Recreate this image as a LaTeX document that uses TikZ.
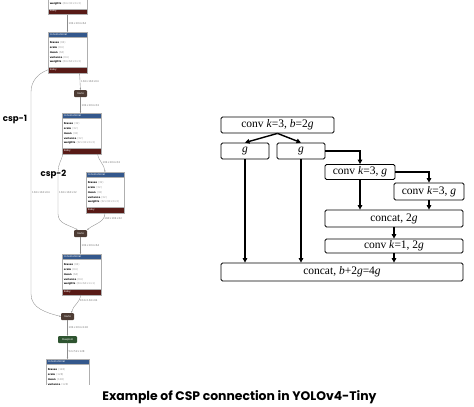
\documentclass[tikz,border=0pt]{standalone}
\usepackage{fontspec}
\setmainfont{Liberation Serif}
\newfontfamily\netfont{DejaVu Sans}
\newfontfamily\capfont{Poppins}
\usetikzlibrary{shapes.multipart,arrows.meta,positioning}

\definecolor{hdrblue}{RGB}{52,88,140}
\definecolor{leakyred}{RGB}{88,26,22}
\definecolor{routebrown}{RGB}{78,60,52}
\definecolor{poolgreen}{RGB}{46,84,48}
\definecolor{edgegray}{RGB}{140,140,140}
\definecolor{valgray}{RGB}{150,150,150}

\newcommand{\nettiny}{\netfont\fontsize{2.6}{4.8}\selectfont}
\newcommand{\nrow}[2]{\textbf{#1}\hspace{1.2pt}\textcolor{valgray}{#2}}
\newcommand{\hdrtext}{\rule[-1pt]{0pt}{3.4pt}\textcolor{white}{convolutional}}
\newcommand{\lkytext}{\rule[-1.6pt]{0pt}{3.9pt}\textcolor{white}{leaky}}
% #1 channels, #2 weights
\newcommand{\convbody}[2]{%
  \rule{0pt}{5.2pt}\nrow{biases}{⟨#1⟩}\\
  \nrow{scale}{⟨#1⟩}\\
  \nrow{mean}{⟨#1⟩}\\
  \nrow{variance}{⟨#1⟩}\\
  \nrow{weights}{⟨#2⟩}\rule[-3.1pt]{0pt}{0pt}}

\tikzset{
  netconv/.style={rectangle split, rectangle split parts=3,
    rectangle split part fill={hdrblue,white,leakyred},
    draw=edgegray!70, line width=0.3pt, text width=#1,
    inner xsep=1.5pt, inner ysep=0.8pt, font=\nettiny, align=left},
  netconv/.default=35.5pt,
  netop/.style={rounded corners=1pt, fill=#1, text=white, font=\nettiny,
    inner sep=0pt, minimum height=7pt},
  netedge/.style={draw=edgegray, line width=0.35pt,
    -{Stealth[length=1.6pt,width=1.3pt]}},
  elabel/.style={font=\nettiny, text=valgray!80!black, anchor=west, inner sep=1pt},
  cspname/.style={font=\capfont\bfseries\fontsize{8.6}{10}\selectfont},
  blk/.style={draw, rounded corners=1.5pt, line width=0.8pt, fill=white,
    inner sep=0pt, font=\fontsize{11.5}{13}\selectfont},
  arr/.style={line width=1.4pt, -{Triangle[length=4.5pt,width=4.5pt]}}
}

\begin{document}
\begin{tikzpicture}[x=1pt,y=-1pt]
  \useasboundingbox (0,0) rectangle (474,407);

  % netron graph
  \begin{scope}
    \clip (0,0) rectangle (160,384);
    % only its last rows are in view
    \node[netconv, anchor=north] (a) at (67.5,-26.2)
      {\rule[-1pt]{0pt}{3.4pt}\nodepart{two}\rule{0pt}{24.4pt}%
       \nrow{weights}{⟨64×32×3×3⟩}\rule[-3.1pt]{0pt}{0pt}\nodepart{three}\lkytext};
    \node[netconv, anchor=north] (b) at (67.5,32)
      {\hdrtext\nodepart{two}\convbody{64}{64×64×3×3}\nodepart{three}\lkytext};
    \node[netop=routebrown, minimum width=13pt] (r1) at (80.5,93.5) {route};
    \node[netconv, anchor=north] (c) at (81.5,113)
      {\hdrtext\nodepart{two}\convbody{32}{32×32×3×3}\nodepart{three}\lkytext};
    \node[netconv=34.5pt, anchor=north] (d) at (105,172)
      {\hdrtext\nodepart{two}\convbody{32}{32×32×3×3}\nodepart{three}\lkytext};
    \node[netop=routebrown, minimum width=13pt] (r3) at (80.5,233.5) {route};
    \node[netconv, anchor=north] (e) at (81.5,254)
      {\hdrtext\nodepart{two}\convbody{64}{64×64×1×1}\nodepart{three}\lkytext};
    \node[netop=routebrown, minimum width=13pt] (r2) at (67.5,316.5) {route};
    \node[netop=poolgreen, minimum width=19pt] (mp) at (67.5,339.5) {maxpool};
    \node[netconv=39.5pt, anchor=north] (f) at (67.5,359)
      {\hdrtext\nodepart{two}\convbody{128}{128×128×3×3}\nodepart{three}\lkytext};

    \coordinate (p1) at (31,92);
    \coordinate (p2) at (31,294);
    \coordinate (q1) at (58,172);
    \coordinate (q2) at (58,214);

    \draw[netedge] (a.south) -- node[elabel] {104×104×64} (b.north);
    \draw[netedge] ([xshift=12pt]b.south) to[out=-85,in=95]
      node[elabel] {104×104×64} (r1.north);
    \draw[netedge] ([yshift=3pt]b.south west) to[out=200,in=90] (p1)
      -- node[elabel] {104×104×64} (p2) to[out=-90,in=165] (r2.west);
    \draw[netedge] (r1.south) -- node[elabel] {104×104×32} (r1.south |- c.north);
    \draw[netedge] ([xshift=1pt]c.south west) to[out=-105,in=90] (q1)
      -- node[elabel] {104×104×32} (q2) to[out=-90,in=150] ([xshift=-3pt]r3.north);
    \draw[netedge] ([xshift=16pt]c.south) to[out=-80,in=95]
      node[elabel] {104×104×32} (d.north);
    \draw[netedge] (d.south) to[out=-90,in=40]
      node[elabel, pos=0.25] {104×104×32} (r3.north east);
    \draw[netedge] (r3.south) -- node[elabel] {104×104×64} (r3.south |- e.north);
    \draw[netedge] ([xshift=-1pt]e.south) to[out=-90,in=80]
      node[elabel, pos=0.3] {104×104×64} ([xshift=4pt]r2.north);
    \draw[netedge] (r2.south) -- node[elabel] {104×104×128} (mp.north);
    \draw[netedge] (mp.south) -- node[elabel] {52×52×128} (f.north);
  \end{scope}

  \node[cspname] (csp1) at (15,120) {csp-1};
  \node[cspname] (csp2) at (53.5,174) {csp-2};

  % CSP block
  \node[blk, minimum width=113pt, minimum height=16pt] (top) at (277.5,125)
    {conv \textit{k}=3, \textit{b}=2\textit{g}};
  \node[blk, minimum width=48pt, minimum height=16pt] (gl) at (245,151) {\textit{g}};
  \node[blk, minimum width=48pt, minimum height=16pt] (gr) at (301,151) {\textit{g}};
  \node[blk, minimum width=70pt, minimum height=15pt] (cm) at (360,172)
    {conv \textit{k}=3, \textit{g}};
  \node[blk, minimum width=70pt, minimum height=17pt] (cr) at (429,191.5)
    {conv \textit{k}=3, \textit{g}};
  \node[blk, minimum width=138pt, minimum height=17pt] (cat2) at (394,218.5)
    {concat, 2\textit{g}};
  \node[blk, minimum width=138pt, minimum height=14pt] (ck1) at (394,246)
    {conv \textit{k}=1, 2\textit{g}};
  \node[blk, minimum width=242pt, minimum height=18pt] (cat4) at (342,272)
    {concat, \textit{b}+2\textit{g}=4\textit{g}};

  \draw[arr] (top.south) -- (gl.north);
  \draw[arr] (top.south) -- (gr.north);
  \draw[arr] (gr.east) -| (cm.north);
  \draw[arr] (cm.east) -| (cr.north);
  \draw[arr] (cm.south) -- (cm.south |- cat2.north);
  \draw[arr] (cr.south) -- (cr.south |- cat2.north);
  \draw[arr] (cat2.south) -- (ck1.north);
  \draw[arr] (ck1.south) -- (ck1.south |- cat4.north);
  \draw[arr] (gl.south) -- (gl.south |- cat4.north);
  \draw[arr] (gr.south) -- (gr.south |- cat4.north);

  \node[font=\capfont\bfseries\fontsize{12.4}{14}\selectfont] (title) at (239.5,397)
    {Example of CSP connection in YOLOv4-Tiny};
\end{tikzpicture}
\end{document}
